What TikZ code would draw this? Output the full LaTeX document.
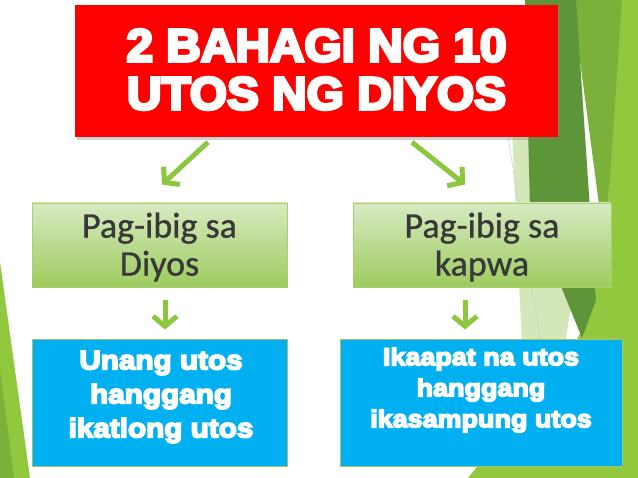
\documentclass[tikz,border=0pt]{standalone}
\usepackage{fontspec}
\setmainfont{Liberation Sans}
\newfontfamily\titlefont[FakeStretch=1.04,FakeBold=6.5]{Liberation Sans Bold}
\newfontfamily\bluefont[FakeStretch=1.1,FakeBold=6]{Liberation Sans Bold}
\newfontfamily\boxfont[FakeBold=0.8]{Carlito}
\usetikzlibrary{arrows.meta,shadows}
\definecolor{arrowgreen}{HTML}{8DC63F}
\definecolor{darkg}{HTML}{5E9538}
\definecolor{midg}{HTML}{7BB03B}
\definecolor{brightg}{HTML}{92C83E}
\definecolor{paleg}{HTML}{D3E7B8}
\definecolor{boxtop}{HTML}{D8EAC2}
\definecolor{boxbot}{HTML}{9DCB5E}
\definecolor{boxline}{HTML}{A8D06C}
\definecolor{bluefill}{HTML}{00B0F0}
\definecolor{blueline}{HTML}{A3C46A}
\definecolor{darktext}{HTML}{383838}
\tikzset{
  redbox/.style={fill=red, draw=none, minimum width=483pt, minimum height=132pt,
    drop shadow={opacity=0.35, shadow xshift=2pt, shadow yshift=-3pt}},
  titletext/.style={text=white, align=center, inner sep=0pt,
    font=\titlefont\fontsize{46}{48}\selectfont},
  greenbox/.style={top color=boxtop, bottom color=boxbot, draw=boxline, line width=0.8pt,
    minimum height=84pt},
  greentext/.style={text=darktext, align=center, inner sep=0pt,
    font=\boxfont\fontsize{36}{38}\selectfont},
  bluebox/.style={fill=bluefill, draw=blueline, line width=1pt, minimum height=127pt},
  bluetext/.style={text=white, align=center, inner sep=0pt},
  arr/.style={draw=arrowgreen, line width=5pt,
    -{Straight Barb[length=10pt,width=24pt]}}
}
\begin{document}
\begin{tikzpicture}[x=1pt,y=-1pt]
\useasboundingbox (0,0) rectangle (638,478);
\fill[white] (0,0) rectangle (638,478);
% decorative background
\fill[midg] (572,0) -- (638,0) -- (638,478) -- (560,478) -- (605,250) -- cycle;
\fill[paleg] (512,130) -- (532,130) -- (572,300) -- (565,345) -- (522,345) -- cycle;
\fill[brightg] (622,0) -- (638,0) -- (638,478) -- (468,478) -- (575,345) -- (594,300) -- (610,180) -- cycle;
\fill[darkg] (525,0) -- (576,0) -- (596,300) -- (582,338) -- (530,210) -- cycle;
\draw[gray!40, line width=0.5pt] (508,137) -- (540,340);
\fill[brightg] (0,262) -- (30,478) -- (0,478) -- cycle;
\fill[midg] (0,370) -- (14,478) -- (0,478) -- cycle;
% title
\node[redbox] (title) at (316.5,71) {};
\node[titletext] (tt) at (316.5,69.5) {2 BAHAGI NG 10\\UTOS NG DIYOS};
% green boxes
\node[greenbox, minimum width=255pt] (gL) at (159.5,245) {};
\node[greenbox, minimum width=258pt] (gR) at (482,245) {};
\node[greentext] (gLt) at (159.5,247) {Pag-ibig sa\\Diyos};
\node[greentext] (gRt) at (482,247) {Pag-ibig sa\\kapwa};
% blue boxes
\node[bluebox, minimum width=255pt] (bL) at (159.5,403.5) {};
\node[bluebox, minimum width=282pt] (bR) at (481,403.5) {};
\node[bluetext, font=\bluefont\fontsize{27}{34}\selectfont] (bLt) at (161,397) {Unang utos\\hanggang\\ikatlong utos};
\node[bluetext, font=\bluefont\fontsize{24.5}{31}\selectfont] (bRt) at (481,390) {Ikaapat na utos\\hanggang\\ikasampung utos};
% arrows
\draw[arr] ([xshift=-108.5pt,yshift=-5pt]title.south) -- ([xshift=2.5pt,yshift=18pt]gL.north);
\draw[arr] ([xshift=95.5pt,yshift=-5pt]title.south) -- ([xshift=-17pt,yshift=18pt]gR.north);
\draw[arr] ([xshift=5.5pt,yshift=-13pt]gL.south) -- ([xshift=5.5pt,yshift=10pt]bL.north);
\draw[arr] ([xshift=-17pt,yshift=-13pt]gR.south) -- ([xshift=-16pt,yshift=10pt]bR.north);
\end{tikzpicture}
\end{document}
